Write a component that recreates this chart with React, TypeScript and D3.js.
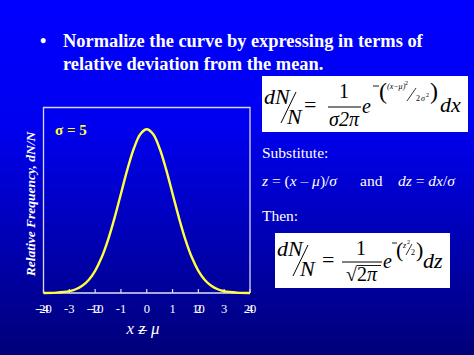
import React from "react";
import * as d3 from "d3";

const zValues = [-4, -3.5, -3, -2.75, -2.5, -2.25, -2, -1.75, -1.5, -1.25, -1, -0.75, -0.5, -0.25, 0, 0.25, 0.5, 0.75, 1, 1.25, 1.5, 1.75, 2, 2.25, 2.5, 2.75, 3, 3.5, 4];
const freqValues = [0.0001, 0.0009, 0.0044, 0.0091, 0.0175, 0.0317, 0.054, 0.0863, 0.1295, 0.1826, 0.242, 0.3011, 0.3521, 0.3867, 0.3989, 0.3867, 0.3521, 0.3011, 0.242, 0.1826, 0.1295, 0.0863, 0.054, 0.0317, 0.0175, 0.0091, 0.0044, 0.0009, 0.0001];
const zTicks = [-4, -3, -2, -1, 0, 1, 2, 3, 4];
const zTickLabels = ["-4", "-3", "-2", "-1", "0", "1", "2", "3", "4"];
const xTicks = [-4, -2, 2, 4];
const xTickLabels = ["-20", "-10", "10", "20"];

const W = 474, H = 355;
const plot = { left: 43.5, right: 250, top: 107.5, bottom: 293 };

export default function App() {
  const x = d3.scaleLinear().domain([-4, 4]).range([plot.left, plot.right]);
  const y = d3.scaleLinear().domain([0, 0.452]).range([plot.bottom, plot.top]);
  const line = d3.line<number>()
    .x((_, i) => x(zValues[i]))
    .y((d) => y(d))
    .curve(d3.curveCatmullRom);
  const serif = "'Liberation Serif', 'Times New Roman', serif";
  return (
    <svg width={W} height={H} style={{ position: "absolute", left: 0, top: 0 }} fontFamily={serif}>
      <defs>
        <linearGradient id="bg" x1="0" y1="0" x2="0" y2="1">
          <stop offset="0" stopColor="#0000ff" />
          <stop offset="0.35" stopColor="#0000f0" />
          <stop offset="1" stopColor="#000078" />
        </linearGradient>
      </defs>
      <rect x={0} y={0} width={W} height={H} fill="url(#bg)" />
      {/* Title */}
      <text x={40} y={47} fill="white" fontSize={18} fontWeight="bold">•</text>
      <text x={63} y={47} fill="white" fontSize={18.4} fontWeight="bold">Normalize the curve by expressing in terms of</text>
      <text x={63} y={70} fill="white" fontSize={18.4} fontWeight="bold">relative deviation from the mean.</text>

      {/* Plot frame */}
      <path d={`M${plot.left},${plot.bottom}V${plot.top}H${plot.right}V${plot.bottom}`} fill="none" stroke="#d8d8f0" strokeWidth={1.3} />
      <line x1={plot.left} x2={plot.right} y1={plot.bottom} y2={plot.bottom} stroke="#e0e0f0" strokeWidth={1.5} />
      {zTicks.map((t) => (
        <line key={"t" + t} x1={x(t)} x2={x(t)} y1={plot.bottom} y2={plot.bottom - 4} stroke="#e0e0f0" strokeWidth={1.2} />
      ))}
      <path d={line(freqValues) || ""} fill="none" stroke="#ffff40" strokeWidth={2.4} />
      <text x={55} y={135} fill="#ffff30" fontSize={15} fontWeight="bold">σ = 5</text>

      {zTicks.map((t, i) => (
        <text key={"zl" + t} x={x(t)} y={313} fill="white" fontSize={12.5} textAnchor="middle">{zTickLabels[i]}</text>
      ))}
      {xTicks.map((t, i) => (
        <text key={"xl" + t} x={x(t)} y={313} fill="white" fontSize={12.5} textAnchor="middle">{xTickLabels[i]}</text>
      ))}
      <text x={143} y={334} fill="white" fontSize={17} fontStyle="italic" textAnchor="middle">x – μ</text>
      <text x={142} y={334} fill="white" fontSize={17} fontStyle="italic" textAnchor="middle">z</text>
      <text transform="translate(35,204) rotate(-90)" fill="white" fontSize={13.5} fontWeight="bold" fontStyle="italic" textAnchor="middle">Relative Frequency, dN/N</text>

      {/* Formula 1 */}
      <rect x={262} y={76} width={206} height={56} fill="white" />
      <g fill="black" fontStyle="italic" fontFamily={serif}>
        <text x={264} y={104} fontSize={22}>dN</text>
        <line x1={281} y1={123} x2={296} y2={92} stroke="black" strokeWidth={1} />
        <text x={287} y={124} fontSize={22}>N</text>
        <text x={304} y={112} fontSize={22} fontStyle="normal">=</text>
        <text x={344} y={98} fontSize={20} fontStyle="normal" textAnchor="middle">1</text>
        <line x1={328} x2={361} y1={107} y2={107} stroke="black" strokeWidth={1} />
        <text x={344} y={126} fontSize={20} textAnchor="middle">σ2π</text>
        <text x={362} y={113} fontSize={20}>e</text>
        <line x1={373} x2={379} y1={86} y2={86} stroke="black" strokeWidth={0.9} />
        <text x={379} y={99} fontSize={24} fontStyle="normal">(</text>
        <text x={387} y={89} fontSize={8}>(x−μ)</text>
        <text x={405} y={85} fontSize={6} fontStyle="normal">2</text>
        <line x1={407} y1={101} x2={416} y2={88} stroke="black" strokeWidth={0.8} />
        <text x={416} y={101} fontSize={8} fontStyle="normal">2</text>
        <text x={421} y={101} fontSize={8}>σ</text>
        <text x={426} y={97} fontSize={6} fontStyle="normal">2</text>
        <text x={430} y={99} fontSize={24} fontStyle="normal">)</text>
        <text x={440} y={112} fontSize={22}>dx</text>
      </g>

      {/* Text between */}
      <text x={262} y={158} fill="white" fontSize={15.5}>Substitute:</text>
      <text x={262} y={186} fill="white" fontSize={15.5}>
        <tspan fontStyle="italic">z</tspan>
        <tspan> = (</tspan>
        <tspan fontStyle="italic">x</tspan>
        <tspan> – </tspan>
        <tspan fontStyle="italic">μ</tspan>
        <tspan>)/</tspan>
        <tspan fontStyle="italic">σ</tspan>
      </text>
      <text x={360} y={186} fill="white" fontSize={15.5}>and</text>
      <text x={398} y={186} fill="white" fontSize={15.5}>
        <tspan fontStyle="italic">dz</tspan>
        <tspan> = </tspan>
        <tspan fontStyle="italic">dx</tspan>
        <tspan>/</tspan>
        <tspan fontStyle="italic">σ</tspan>
      </text>
      <text x={262} y={221} fill="white" fontSize={15.5}>Then:</text>

      {/* Formula 2 */}
      <rect x={275} y={233} width={175} height={55} fill="white" />
      <g fill="black" fontStyle="italic" fontFamily={serif}>
        <text x={277} y={256} fontSize={22}>dN</text>
        <line x1={293} y1={276} x2={308} y2={245} stroke="black" strokeWidth={1} />
        <text x={300} y={276} fontSize={22}>N</text>
        <text x={322} y={267} fontSize={22} fontStyle="normal">=</text>
        <text x={361} y={255} fontSize={20} fontStyle="normal" textAnchor="middle">1</text>
        <line x1={342} x2={382} y1={262} y2={262} stroke="black" strokeWidth={1} />
        <text x={346} y={281} fontSize={20} fontStyle="normal">√</text>
        <line x1={357} x2={381} y1={265.5} y2={265.5} stroke="black" strokeWidth={0.9} />
        <text x={357} y={281} fontSize={20} fontStyle="normal">2</text>
        <text x={367} y={281} fontSize={20}>π</text>
        <text x={383} y={268} fontSize={20}>e</text>
        <line x1={392} x2={397} y1={243} y2={243} stroke="black" strokeWidth={0.9} />
        <text x={396} y={257} fontSize={22} fontStyle="normal">(</text>
        <text x={403} y={248} fontSize={8}>z</text>
        <text x={407} y={244} fontSize={6} fontStyle="normal">2</text>
        <line x1={406} y1={255} x2={412} y2={244} stroke="black" strokeWidth={0.8} />
        <text x={411} y={255} fontSize={8} fontStyle="normal">2</text>
        <text x={416} y={257} fontSize={22} fontStyle="normal">)</text>
        <text x={423} y={268} fontSize={22}>dz</text>
      </g>
    </svg>
  );
}
